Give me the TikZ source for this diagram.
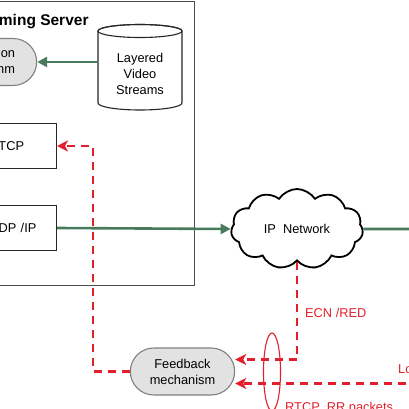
\documentclass[tikz,border=0pt]{standalone}
\usepackage{fontspec}
\setmainfont{Liberation Sans}
\usetikzlibrary{shapes.misc,shapes.symbols,shapes.geometric,arrows.meta}
\definecolor{fgreen}{RGB}{72,122,92}
\definecolor{fred}{RGB}{226,32,44}
\definecolor{fgray}{RGB}{226,226,226}
\begin{document}
\begin{tikzpicture}[x=1pt,y=-1pt,
  font=\fontsize{12.8}{16}\selectfont,
  box/.style={draw=black!85, line width=1.1pt, text width=57pt, align=left,
    inner xsep=10pt, minimum height=45pt, anchor=east},
  pill/.style={rounded rectangle, draw=black!50, fill=fgray, line width=1.1pt, align=center},
  gline/.style={draw=fgreen, line width=2.6pt},
  gtip/.style={-{Triangle[length=10pt,width=10pt]}},
  rdash/.style={draw=fred, line width=2.6pt, dash pattern=on 8pt off 6pt},
  rtip/.style={-{Stealth[length=11pt,width=11pt,inset=3pt]}},
  lab/.style={text=fred, anchor=base west, inner sep=0pt}]
\useasboundingbox (0,0) rectangle (409,409);
\clip (0,0) rectangle (409,409);
% server frame
\draw[draw=black!70, line width=0.8pt, double=white, double distance=1.4pt] (-150,3) rectangle (193,284);
\node[anchor=base west, inner sep=0pt, font=\fontsize{15.5}{18}\selectfont\bfseries] (title) at (-40,26) {Streaming Server};
% cylinder
\draw[line width=1.1pt, draw=black!85, fill=white]
  (98,31) -- (98,103) arc[start angle=180, end angle=0, x radius=42, y radius=7]
  -- (182,31) arc[start angle=0, end angle=-180, x radius=42, y radius=6.5] -- cycle;
\draw[line width=1.1pt, draw=black!85] (140,31) ellipse[x radius=42, y radius=6.5];
\node[minimum width=84pt, minimum height=60pt, inner sep=0pt, align=center] (lvs) at (140,74) {Layered\\Video\\Streams};
% algorithm node
\node[pill, minimum width=120pt, minimum height=47pt, text width=70pt, align=right] (algo) at (-20,62) {Adaptation\\Algorithm};
\draw[gline, gtip] (lvs.west |- algo.east) -- (algo.east);
% protocol boxes
\node[box] (rtcp) at (57,146) {RTCP};
\node[box] (udp) at (57,228) {UDP /IP};
% network cloud
\node[cloud, draw=black, line width=1.8pt, cloud puffs=11, cloud puff arc=115, aspect=1.6,
  minimum width=132pt, minimum height=80pt, inner sep=0pt] (net) at (297,229) {IP\ \ Network};
\draw[gline, gtip] (udp.east) -- (net.west);
\coordinate (rout) at (420,229);
\draw[gline] (net.east) -- (rout);
% feedback
\node[pill, minimum width=111pt, minimum height=47pt] (fb) at (182.5,371.5) {Feedback\\mechanism};
\draw[rdash, rtip] (net.south) |- ([yshift=12pt]fb.east);
\coordinate (rin) at (420,383.5);
\draw[rdash, rtip] (rin) -- ([yshift=-12pt]fb.east);
\coordinate (lk) at (93,0);
\draw[rdash, rtip] (fb.west) -| (lk |- rtcp.east) -- (rtcp.east);
\node[ellipse, draw=fred, line width=1.1pt,
  minimum width=17pt, minimum height=78pt, inner sep=0pt] (grp) at (272,372) {};
% labels
\node[lab] (ecn) at (305,317) {ECN /RED};
\node[lab] (loss) at (398,373) {Loss};
\node[lab] (rr) at (285,411) {RTCP\ \ RR packets};
\end{tikzpicture}
\end{document}
